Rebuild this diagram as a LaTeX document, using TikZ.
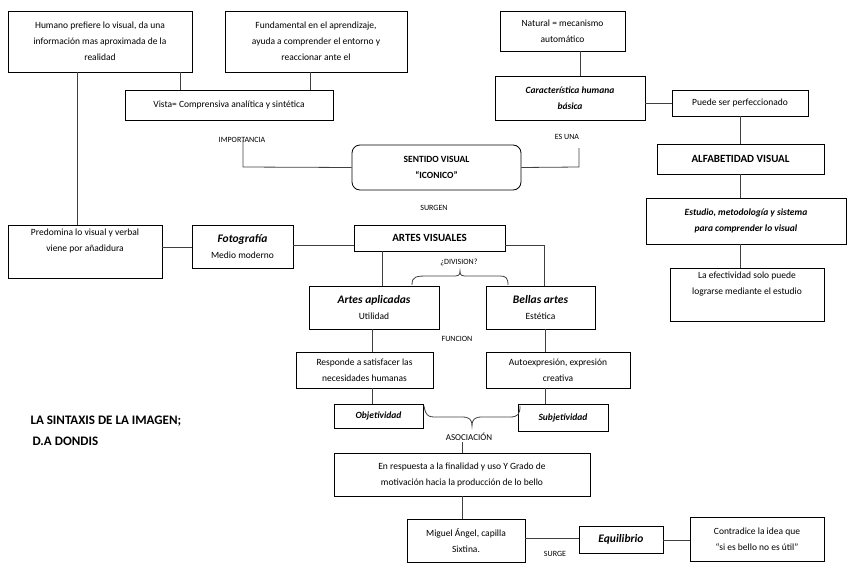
\documentclass[tikz,border=0pt]{standalone}
\usepackage{fontspec}
\setmainfont{Carlito}
\usetikzlibrary{decorations.pathreplacing}
\begin{document}
\begin{tikzpicture}[x=1pt,y=-1pt,
  box/.style={draw,thick,inner sep=0pt,align=center,font=\fontsize{9.5}{16}\selectfont},
  lbl/.style={font=\fontsize{8}{10}\selectfont,inner sep=1pt},
  ln/.style={draw=black!75,thick},
  bi/.style={font=\fontsize{11}{17}\selectfont\bfseries\itshape},
  bb/.style={font=\fontsize{11}{17}\selectfont\bfseries}]
\useasboundingbox (0,0) rectangle (855,573);
\newcommand\bx[6]{\node[box,minimum width=#4-#2,minimum height=#5-#3] (#1) at ({(#2+#4)/2},{(#3+#5)/2}) {#6};}
\bx{h1}{8}{11}{192}{72}{Humano prefiere lo visual, da una\\información mas aproximada de la\\realidad}
\bx{fund}{225}{11}{407}{72}{Fundamental en el aprendizaje,\\ayuda a comprender el entorno y\\reaccionar ante el}
\bx{vista}{125}{90}{333}{120}{Vista= Comprensiva analítica y sintética}
\node[box,rounded corners=8pt,minimum width=169,minimum height=45] (sent) at (436.5,167.5) {\bfseries SENTIDO VISUAL\\\bfseries “ICONICO”};
\bx{nat}{500}{11}{625}{51}{Natural = mecanismo\\automático}
\bx{car}{495}{76}{645}{120}{\bfseries\itshape Característica humana\\\bfseries\itshape básica}
\bx{pue}{672}{90}{808}{116}{Puede ser perfeccionado}
\bx{alf}{657}{144}{824}{174}{\fontsize{11}{17}\selectfont\bfseries ALFABETIDAD VISUAL}
\bx{est}{646}{198}{846}{244}{\bfseries\itshape Estudio, metodología y sistema\\\bfseries\itshape para comprender lo visual}
\bx{efe}{670}{268}{824}{321}{La efectividad solo puede\\lograrse mediante el estudio\\[6pt]}
\bx{av}{354}{225}{505}{251}{\fontsize{11}{17}\selectfont\bfseries ARTES VISUALES}
\bx{foto}{192}{225}{293}{268}{{\fontsize{11.5}{17}\selectfont\bfseries\itshape Fotografía}\\Medio moderno}
\bx{pre}{8}{225}{162}{278}{Predomina lo visual y verbal\\viene por añadidura\\[6pt]}
\bx{apl}{309}{286}{439}{329}{{\fontsize{11.5}{17}\selectfont\bfseries\itshape Artes aplicadas}\\Utilidad}
\bx{bel}{486}{286}{595}{329}{{\fontsize{11.5}{17}\selectfont\bfseries\itshape Bellas artes}\\Estética}
\bx{res}{296}{352}{433}{388}{Responde a satisfacer las\\necesidades humanas}
\bx{aut}{486}{352}{630}{388}{Autoexpresión, expresión\\creativa}
\bx{obj}{334}{404}{423}{428}{\bfseries\itshape Objetividad}
\bx{sub}{518}{404}{608}{431}{\bfseries\itshape Subjetividad}
\bx{enr}{334}{453}{590}{496}{En respuesta a la finalidad y uso Y Grado de\\motivación hacia la producción de lo bello}
\bx{mig}{407}{519}{525}{562}{Miguel Ángel, capilla\\Sixtina.}
\node[box,minimum width=84,minimum height=27,font=\fontsize{11.5}{17}\selectfont\bfseries\itshape] (equ) at (621,539.5) {Equilibrio};
\bx{con}{690}{517}{824}{561}{Contradice la idea que\\“si es bello no es útil”}
% labels
\node[lbl] (limp) at (242,140) {IMPORTANCIA};
\node[lbl] (lesu) at (567,137) {ES UNA};
\node[lbl] (lsur) at (434,208) {SURGEN};
\node[lbl] (ldiv) at (459,262) {¿DIVISION?};
\node[lbl] (lfun) at (457,339) {FUNCION};
\node[lbl,font=\fontsize{9}{10}\selectfont] (laso) at (469,437) {ASOCIACIÓN};
\node[lbl] (lsrg) at (555,554) {SURGE};
\node[anchor=west,font=\fontsize{13}{16}\selectfont\bfseries] (t1) at (27,421) {LA SINTAXIS DE LA IMAGEN;};
\node[anchor=west,font=\fontsize{13}{16}\selectfont\bfseries] (t2) at (29,441) {D.A DONDIS};
% connectors
\draw[ln] (h1.south -| 77,0) -- (pre.north -| 77,0);
\draw[ln] (h1.south -| 180,0) -- (vista.north -| 180,0);
\draw[ln] (fund.south -| 310,0) -- (vista.north -| 310,0);
\draw[ln] (limp.north -| 243,0) ++(0,4) -- (243,167) -- (sent.west);
\draw[ln] (sent.east) -- (579,167) -- (579,148);
\draw[ln] (nat.south -| 580,0) -- (car.north -| 580,0);
\draw[ln] (car.east |- 0,103) -- (pue.west |- 0,103);
\draw[ln] (pue.south -| 740,0) -- (alf.north -| 740,0);
\draw[ln] (alf.south -| 740,0) -- (est.north -| 740,0);
\draw[ln] (est.south -| 740,0) -- (efe.north -| 740,0);
\draw[ln] (pre.east |- 0,247) -- (foto.west |- 0,247);
\draw[ln] (foto.east |- 0,245) -- (av.west |- 0,245);
\draw[ln] (av.south -| 382,0) -- (apl.north -| 382,0);
\draw[ln] (av.east |- 0,245) -- (544,245) -- (bel.north -| 544,0);
\draw[ln] (412,285) .. controls (412,276) and (416,276) .. (430,276) -- (452,276) .. controls (458,276) and (460,276) .. (460,271)
  .. controls (460,276) and (462,276) .. (468,276) -- (500,276) .. controls (506,276) and (508,278) .. (508,285);
\draw[ln] (apl.south -| 372,0) -- (res.north -| 372,0);
\draw[ln] (bel.south -| 545,0) -- (aut.north -| 545,0);
\draw[ln] (res.south -| 372,0) -- (obj.north -| 372,0);
\draw[ln] (aut.south -| 545,0) -- (sub.north -| 545,0);
\draw[ln] (424,406) .. controls (426,418) and (430,417) .. (440,417) -- (462,417) .. controls (470,417) and (472,420) .. (472,426)
  .. controls (472,420) and (474,417) .. (482,417) -- (510,417) .. controls (518,417) and (520,414) .. (520,406);
\draw[ln] (462,442) -- (enr.north -| 462,0);
\draw[ln] (enr.south -| 462,0) -- (mig.north -| 462,0);
\draw[ln] (mig.east |- 0,538) -- (equ.west |- 0,538);
\draw[ln] (equ.east |- 0,540) -- (con.west |- 0,540);
\end{tikzpicture}
\end{document}
